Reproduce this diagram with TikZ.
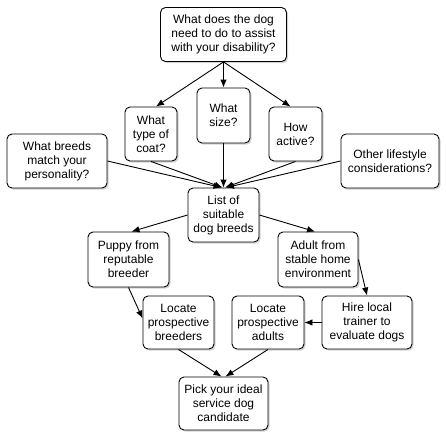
\documentclass[tikz,border=0pt]{standalone}
\usepackage{fontspec}
\setmainfont{Liberation Sans}
\usetikzlibrary{arrows.meta, shadows}
\begin{document}
\begin{tikzpicture}[x=1pt, y=-1pt, >={Latex[length=8pt,width=6.5pt]},
    font=\fontsize{12}{14}\selectfont,
    b/.style={draw, line width=0.9pt, rounded corners=5pt, fill=white,
        drop shadow={shadow xshift=1.6pt, shadow yshift=-1.6pt, opacity=0.35},
        minimum height=54pt, inner sep=2pt, align=center},
    ln/.style={->, line width=0.9pt}]
    \useasboundingbox (0,0) rectangle (446,437);
    \node[b, minimum width=126pt] (top) at (223.5, 34.5) {What does the dog\\need to do to assist\\with your disability?};
    \node[b, minimum width=52pt] (coat) at (151, 134) {What\\type of\\coat?};
    \node[b, minimum width=53pt, minimum height=55pt] (size) at (223.5, 115.5) {What\\size?};
    \node[b, minimum width=53pt] (act) at (295.5, 134) {How\\active?};
    \node[b, minimum width=100pt] (brd) at (57, 161) {What breeds\\match your\\personality?};
    \node[b, minimum width=98pt] (oth) at (390, 161) {Other lifestyle\\considerations?};
    \node[b, minimum width=71pt] (list) at (223.5, 215) {List of\\suitable\\dog breeds};
    \node[b, minimum width=81pt, minimum height=55pt] (pup) at (128.5, 259.5) {Puppy from\\reputable\\breeder};
    \node[b, minimum width=80pt, minimum height=55pt] (adl) at (318, 259.5) {Adult from\\stable home\\environment};
    \node[b, minimum width=71pt, minimum height=53pt] (locb) at (178.5, 322.5) {Locate\\prospective\\breeders};
    \node[b, minimum width=72pt, minimum height=53pt] (loca) at (268, 322.5) {Locate\\prospective\\adults};
    \node[b, minimum width=90pt, minimum height=53pt] (hire) at (367, 322.5) {Hire local\\trainer to\\evaluate dogs};
    \node[b, minimum width=89pt, minimum height=53pt] (pick) at (223.5, 403.5) {Pick your ideal\\service dog\\candidate};
    \draw[ln] (top.south) -- ([xshift=5pt]coat.north);
    \draw[ln] (top.south) -- (size.north);
    \draw[ln] (top.south) -- ([xshift=-5pt]act.north);
    \draw[ln] (brd.east) -- ([xshift=-2pt]list.north);
    \draw[ln] (coat.south) -- ([xshift=-1pt]list.north);
    \draw[ln] (size.south) -- (list.north);
    \draw[ln] (act.south) -- ([xshift=1.5pt]list.north);
    \draw[ln] (oth.west) -- ([xshift=2.5pt]list.north);
    \draw[ln] (list.west) -- ([xshift=3pt]pup.north);
    \draw[ln] (list.east) -- ([xshift=-3pt]adl.north);
    \draw[ln] (pup.south) -- ([yshift=4pt]locb.west);
    \draw[ln] (adl.east) -- (hire.north);
    \draw[ln] (hire.west) -- (loca.east);
    \draw[ln] (locb.south) -- ([xshift=-2pt]pick.north);
    \draw[ln] (loca.south) -- ([xshift=2pt]pick.north);
\end{tikzpicture}
\end{document}
